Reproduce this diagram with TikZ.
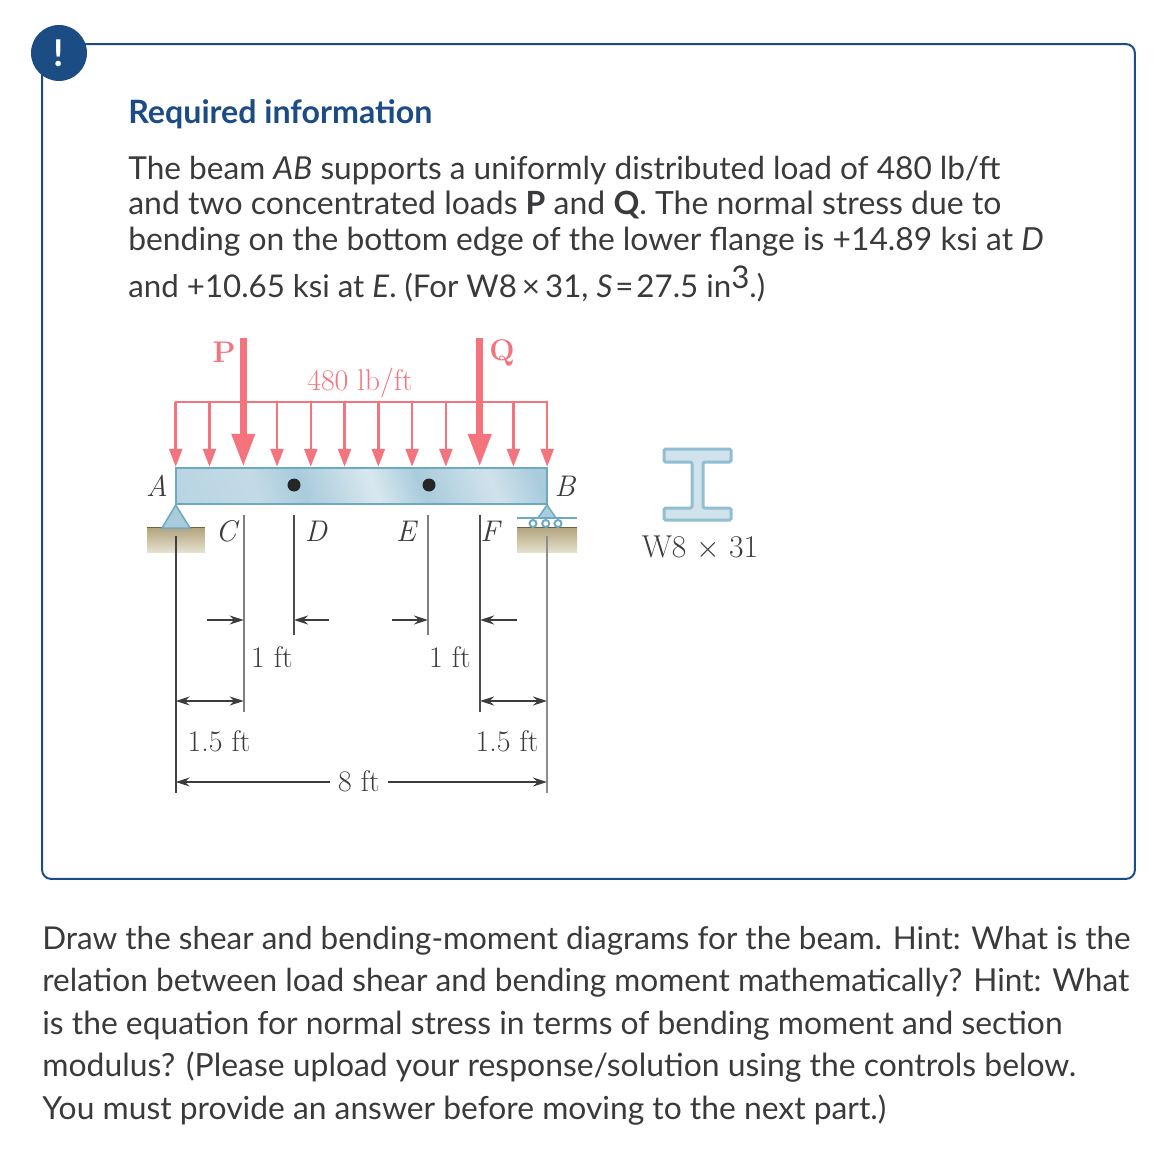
\documentclass[tikz,border=0pt]{standalone}
\usepackage{fontspec}
\usepackage{amsmath}
\usetikzlibrary{arrows.meta, positioning}
\newfontfamily\uifont{Lato}
\definecolor{framecol}{HTML}{1B4C84}
\definecolor{loadcol}{HTML}{F4737C}
\definecolor{bodycol}{HTML}{3A3A3C}
\definecolor{steelcol}{HTML}{6DA9C0}
\definecolor{steelfill}{HTML}{A9CBDC}
\definecolor{labelcol}{HTML}{3C3C3C}
\definecolor{groundtop}{HTML}{B3A57F}
\definecolor{groundbot}{HTML}{E4E0CD}
\definecolor{groundline}{HTML}{6E6238}
\pgfdeclarehorizontalshading{beamshade}{100bp}{
	color(0bp)=(steelfill); color(32bp)=(steelfill!70!white); color(40bp)=(steelfill);
	color(52bp)=(steelfill!45!white); color(60bp)=(steelfill); color(72bp)=(steelfill!55!white);
	color(80bp)=(steelfill); color(100bp)=(steelfill)}
\begin{document}
\begin{tikzpicture}[
			x=0.02cm, y=-0.02cm,
			bodytext/.style={anchor=base west, inner sep=0pt, text=bodycol, font=\uifont\fontsize{18}{20}\selectfont},
			tag/.style={inner sep=0pt, text=labelcol, font=\fontsize{17}{18}\selectfont},
			tagit/.style={tag, font=\fontsize{17}{18}\selectfont\itshape},
			loadtag/.style={inner sep=0pt, text=loadcol, font=\fontsize{17}{18}\selectfont},
			smallload/.style={draw=loadcol, line width=0.05cm, -{Triangle[length=0.36cm, width=0.26cm]}},
			bigload/.style={draw=loadcol, line width=0.14cm, -{Triangle[length=0.66cm, width=0.44cm]}},
			dimline/.style={line width=0.04cm},
			dimarrow/.style={draw=labelcol, line width=0.03cm, -{Stealth[length=0.28cm, width=0.18cm]}},
			dimboth/.style={draw=labelcol, line width=0.03cm, {Stealth[length=0.28cm, width=0.18cm]}-{Stealth[length=0.28cm, width=0.18cm]}},
			ground/.style={minimum height=0.48cm, inner sep=0pt, top color=groundtop, bottom color=groundbot}
			]
			\useasboundingbox (0,0) rectangle (1170,1172);
			
			% Frame and badge
			\node (frame) [draw=framecol, line width=0.04cm, rounded corners=0.18cm, minimum width=21.86cm, minimum height=16.7cm, inner sep=0pt] at (588.5,461.5) {};
			\node (badge) [circle, fill=framecol, minimum size=1.12cm, inner sep=0pt, text=white, font=\uifont\bfseries\fontsize{21}{22}\selectfont] at (59,53) {!};
			
			% Text in the frame
			\node (title) [bodytext, text=framecol, font=\uifont\bfseries\fontsize{18.3}{20}\selectfont] at (128,124) {Required information};
			\node (line1) [bodytext] at (128,180) {The beam \textit{AB} supports a uniformly distributed load of 480 lb/ft};
			\node (line2) [bodytext, font=\uifont\fontsize{18.2}{20}\selectfont] at (128,215) {and two concentrated loads \textbf{P} and \textbf{Q}. The normal stress due to};
			\node (line3) [bodytext, font=\uifont\fontsize{18.1}{20}\selectfont] at (128,251) {bending on the bottom edge of the lower flange is +14.89 ksi at \textit{D}};
			\node (line4) [bodytext, font=\uifont\fontsize{17.8}{20}\selectfont] at (128,297) {and +10.65 ksi at \textit{E}. (For W8\hspace{0.1cm}×\hspace{0.1cm}31, \textit{S}\hspace{0.06cm}=\hspace{0.06cm}27.5 in\raisebox{0.17cm}{3}.)};
			
			% Beam A -> B
			\node (beam) [draw=steelcol, line width=0.05cm, shading=beamshade, shading angle=20, minimum width=7.42cm, minimum height=0.72cm, inner sep=0pt] at (361.3,486) {};
			\fill[black!85] (294,485) circle (0.13cm);
			\fill[black!85] (429,485) circle (0.13cm);
			
			% Distributed load
			\foreach \i in {0,...,11} {
				\coordinate (top\i) at ({175.7+33.77*\i},402);
			}
			\draw[draw=loadcol, line width=0.05cm, line cap=round] (top0) -- (top11);
			\foreach \i in {0,1,3,4,5,6,7,8,10,11} {
				\draw[smallload] (top\i) -- (top\i |- beam.north);
			}
			\coordinate (topP) at (243.3,338);
			\coordinate (topQ) at (479.7,338);
			\draw[bigload] (topP) -- (topP |- beam.north);
			\draw[bigload] (topQ) -- (topQ |- beam.north);
			\node (P) [loadtag, font=\fontsize{17}{18}\selectfont\bfseries] at (224,352) {P};
			\node (Q) [loadtag, font=\fontsize{17}{18}\selectfont\bfseries] at (502,353) {Q};
			\node (w) [loadtag] at (360,383) {480 lb/ft};
			
			% Supports
			\node (groundA) [ground, minimum width=1.16cm] at (176,540) {};
			\node (groundB) [ground, minimum width=1.2cm] at (547,540) {};
			\draw[draw=groundline, line width=0.03cm] (groundA.north west) -- (groundA.north east);
			\draw[draw=groundline, line width=0.03cm] (groundB.north west) -- (groundB.north east);
			\draw[draw=steelcol, fill=steelfill, line width=0.03cm] (175.7,505) -- (162,528) -- (190,528) -- cycle;
			\draw[draw=steelcol, fill=steelfill, line width=0.03cm] (547,505) -- (538,518) -- (556,518) -- cycle;
			\draw[draw=steelcol, line width=0.03cm] (517,518) -- (577,518);
			\foreach \x in {533,545.7,558} {
				\draw[draw=steelcol, fill=white, line width=0.04cm] (\x,523.5) circle (0.07cm);
			}
			
			% Extension lines
			\coordinate (Atop) at (175.7,536);
			\coordinate (Abot) at (175.7,793);
			\coordinate (Btop) at (547,536);
			\coordinate (Bbot) at (547,793);
			\coordinate (Ctop) at (243.7,515);
			\coordinate (Cbot) at (243.7,712);
			\coordinate (Dtop) at (294,515);
			\coordinate (Dbot) at (294,635);
			\coordinate (Etop) at (428,515);
			\coordinate (Ebot) at (428,635);
			\coordinate (Ftop) at (480,515);
			\coordinate (Fbot) at (480,712);
			\draw[dimline, black!75] (Atop) -- (Abot);
			\draw[dimline, black!45] (Btop) -- (Bbot);
			\draw[dimline, black!50] (Ctop) -- (Cbot);
			\draw[dimline, black!70] (Dtop) -- (Dbot);
			\draw[dimline, black!50] (Etop) -- (Ebot);
			\draw[dimline, black!70] (Ftop) -- (Fbot);
			
			% Dimension arrows
			\coordinate (Cfree) at (207,620);
			\coordinate (Dfree) at (329,620);
			\coordinate (Efree) at (392,620);
			\coordinate (Ffree) at (517,620);
			\coordinate (left15) at (175.7,701);
			\coordinate (right15) at (547,701);
			\draw[dimarrow] (Cfree) -- (Cfree -| Ctop);
			\draw[dimarrow] (Dfree) -- (Dfree -| Dtop);
			\draw[dimarrow] (Efree) -- (Efree -| Etop);
			\draw[dimarrow] (Ffree) -- (Ffree -| Ftop);
			\draw[dimboth] (left15) -- (left15 -| Ctop);
			\draw[dimboth] (right15) -- (right15 -| Ftop);
			\node (eight) [tag, inner xsep=0.16cm] at (359,781) {8 ft};
			\coordinate (left8) at (175.7,782);
			\coordinate (right8) at (547,782);
			\draw[dimarrow] (left8 -| eight.west) -- (left8);
			\draw[dimarrow] (right8 -| eight.east) -- (right8);
			
			% Labels
			\node (A) [tagit] at (157,486) {A};
			\node (B) [tagit] at (565,486) {B};
			\node (C) [tagit] at (226,531) {C};
			\node (D) [tagit] at (316,531) {D};
			\node (E) [tagit] at (406,531) {E};
			\node (F) [tagit] at (490,531) {F};
			\node (dimCD) [tag] at (272,657) {1 ft};
			\node (dimEF) [tag] at (450,657) {1 ft};
			\node (dimAC) [tag] at (219,741) {1.5 ft};
			\node (dimFB) [tag] at (507,741) {1.5 ft};
			
			% W8 section
			\draw[draw=steelcol!75!white, fill=steelfill!55!white, line width=0.06cm, rounded corners=0.03cm]
				(664,449) -- (731,449) -- (731,462) -- (703,462) -- (703,508) -- (731,508) -- (731,520) -- (664,520) -- (664,508) -- (692,508) -- (692,462) -- (664,462) -- cycle;
			\node (section) [tag, font=\fontsize{18}{18}\selectfont] at (700,548) {W8 $\times$ 31};
			
			% Text under the frame
			\node (hint1) [bodytext, font=\uifont\fontsize{17.9}{20}\selectfont] at (42,949) {Draw the shear and bending-moment diagrams for the beam. Hint: What is the};
			\node (hint2) [bodytext] at (42,991) {relation between load shear and bending moment mathematically? Hint: What};
			\node (hint3) [bodytext, font=\uifont\fontsize{18.1}{20}\selectfont] at (42,1034) {is the equation for normal stress in terms of bending moment and section};
			\node (hint4) [bodytext, font=\uifont\fontsize{18.15}{20}\selectfont] at (42,1076) {modulus? (Please upload your response/solution using the controls below.};
			\node (hint5) [bodytext, font=\uifont\fontsize{18.1}{20}\selectfont] at (42,1119) {You must provide an answer before moving to the next part.)};
\end{tikzpicture}
\end{document}
